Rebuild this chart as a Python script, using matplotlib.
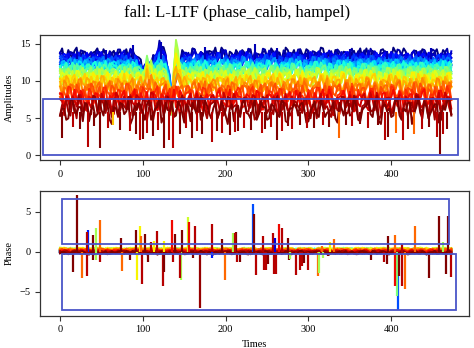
import numpy as np
import matplotlib
matplotlib.use("Agg")
import matplotlib.pyplot as plt
from matplotlib.patches import Rectangle

plt.rcParams["font.family"] = ["Liberation Serif", "DejaVu Serif"]

title = "fall: L-LTF (phase_calib, hampel)"

# sample times (every 2.5 packets)
times = np.arange(190) * 2.5

# jitter patterns, one value per 5 packets
tex_a = [0.2, -0.5, 0.6, -0.3, 0.9, -0.2, 0.4, -0.7, 0.3, 0.8, -0.4, 0.1, -0.9, 0.5, 0.2, -0.3, 0.7, -0.6, 0.0,
         0.6, -0.2, 0.9, -0.5, 0.3, -0.1, 0.5, -0.8, 0.4, 0.7, -0.3, 0.2, -0.6, 0.8, -0.1, 0.3, -0.7, 0.5, 0.1,
         -0.4, 0.9, -0.3, 0.4, -0.9, 0.2, 0.6, -0.2, 0.7, -0.5, 0.1, 0.4, -0.6, 0.8, -0.2, 0.3, -0.8, 0.6, 0.0,
         -0.4, 0.7, -0.1, 0.5, -0.7, 0.2, 0.9, -0.3, 0.4, -0.5, 0.6, -0.1, 0.3, -0.9, 0.5, 0.2, -0.4, 0.8, -0.2,
         0.1, -0.6, 0.7, 0.3, -0.5, 0.4, -0.2, 0.8, -0.7, 0.2, 0.5, -0.3, 0.6, -0.8, 0.1, 0.7, -0.4, 0.3, -0.1]
tex_b = [-0.3, 0.4, -0.1, 0.7, -0.6, 0.2, -0.8, 0.5, 0.0, -0.4, 0.6, -0.2, 0.8, -0.5, 0.3, 0.9, -0.7, 0.1, 0.5,
         -0.2, 0.3, -0.9, 0.6, 0.1, -0.5, 0.7, -0.3, 0.2, -0.6, 0.4, 0.9, -0.1, 0.5, -0.8, 0.2, 0.6, -0.4, 0.3,
         0.7, -0.6, 0.1, -0.3, 0.5, -0.8, 0.4, 0.2, -0.5, 0.9, -0.2, 0.6, -0.4, 0.1, 0.7, -0.7, 0.3, -0.1, 0.8,
         -0.5, 0.2, 0.6, -0.9, 0.4, -0.1, 0.3, -0.6, 0.8, 0.0, -0.3, 0.5, -0.7, 0.6, 0.2, -0.4, 0.9, -0.2, 0.1,
         0.4, -0.8, 0.5, -0.2, 0.7, 0.1, -0.5, 0.3, -0.3, 0.6, -0.9, 0.2, 0.8, -0.4, 0.0, 0.5, -0.6, 0.4, -0.2]
tex_c = [0.5, 0.1, -0.7, 0.3, -0.2, 0.8, -0.4, 0.0, 0.6, -0.8, 0.2, 0.5, -0.3, 0.9, -0.6, 0.1, 0.4, -0.2, 0.7,
         -0.7, 0.4, 0.0, -0.4, 0.8, -0.3, 0.2, 0.6, -0.9, 0.3, -0.1, 0.7, -0.5, 0.2, 0.5, -0.6, 0.1, 0.9, -0.3,
         0.2, -0.5, 0.8, -0.1, 0.3, 0.6, -0.7, 0.4, -0.2, 0.1, 0.8, -0.6, 0.3, -0.3, 0.5, 0.0, -0.9, 0.4, 0.6,
         -0.1, 0.5, -0.6, 0.2, 0.9, -0.4, 0.1, 0.7, -0.3, 0.4, -0.8, 0.3, 0.6, -0.2, -0.6, 0.8, -0.1, 0.2, -0.5,
         0.7, -0.3, 0.2, -0.7, 0.4, 0.6, -0.1, -0.5, 0.9, -0.2, 0.3, -0.6, 0.5, 0.1, -0.4, 0.6, -0.8, 0.2, 0.4]

# mean amplitude of each subcarrier trace, blue (top) to dark red (bottom), and its jitter
amp_levels = [13.5, 13.35, 13.2, 13.0, 12.85, 12.7, 12.5, 12.35, 12.2, 12.0, 11.85, 11.7, 11.5, 11.3, 11.1,
              10.9, 10.7, 10.5, 10.3, 10.0, 9.8, 9.5, 9.1, 8.7, 8.3, 7.9, 7.4, 6.9, 6.4, 5.9]
amp_spread = [1.1, 1.1, 1.0, 1.0, 1.0, 1.0, 1.0, 1.0, 1.0, 1.0, 1.0, 1.1, 1.1, 1.1, 1.1,
              1.1, 1.2, 1.2, 1.2, 1.3, 1.3, 1.3, 1.4, 1.4, 1.5, 1.5, 1.6, 1.7, 1.8, 1.9]

# disturbance around t=100..145 (upper and middle subcarriers)
up_event_t = [95, 97.5, 100, 102.5, 105, 107.5, 110, 112.5, 115, 117.5, 120,
              122.5, 125, 127.5, 130, 132.5, 135, 137.5, 140, 142.5, 145]
up_event_v = [-1.0, -1.5, -2.5, -2.0, -2.0, -1.5, -1.5, -1.0, -0.5, 0.5, 1.5,
              1.0, 0.5, -0.5, -2.0, -4.0, -7.5, -5.0, -3.0, -2.0, -1.0]
mid_event_t = [105, 107.5, 110, 130, 132.5, 135, 137.5, 140, 142.5, 145]
mid_event_v = [2.5, 1.0, 1.5, -1.0, -3.0, -4.5, 1.0, 4.5, 2.5, 1.0]

# single-sample drops of the low (red) traces: time, value, colour position
dip_t = [2, 16, 24, 34, 41, 48, 58, 64, 72, 85, 92, 96, 100, 105, 112, 118, 126, 132, 136, 145,
         152, 159, 165, 172, 183, 189, 195, 205, 211, 215, 222, 231, 244, 248, 255, 262, 268, 275,
         280, 290, 298, 307, 318, 325, 337, 345, 352, 362, 372, 384, 392, 396, 406, 414, 420, 427,
         437, 446, 455, 459, 463, 467]
dip_v = [2.3, 3.8, 3.5, 1.1, 3.9, 1.0, 3.6, 4.0, 3.4, 3.3, 2.8, 2.0, 2.2, 3.0, 2.6, 3.4, 1.0, 2.0, 1.0, 2.9,
         3.6, 2.3, 3.2, 2.8, 1.8, 3.3, 3.0, 2.7, 3.1, 3.2, 3.6, 3.4, 3.0, 3.5, 3.8, 2.0, 3.2, 3.9,
         3.5, 4.0, 3.7, 3.7, 4.1, 3.8, 2.3, 4.0, 3.9, 4.2, 3.6, 4.0, 2.0, 2.5, 3.0, 2.0, 3.5, 2.8,
         3.5, 3.8, 2.5, 0.1, 2.8, 3.5]
dip_c = [1.0, 0.95, 1.0, 0.95, 1.0, 1.0, 0.95, 0.7, 1.0, 0.95, 1.0, 0.95, 1.0, 0.95, 1.0, 0.95, 1.0, 0.95, 0.95, 1.0,
         0.95, 1.0, 0.95, 1.0, 0.95, 1.0, 0.95, 1.0, 0.95, 1.0, 0.95, 1.0, 0.95, 1.0, 0.95, 1.0, 0.95, 1.0,
         0.95, 1.0, 0.95, 1.0, 0.95, 1.0, 0.8, 1.0, 0.95, 1.0, 0.95, 1.0, 0.95, 1.0, 0.8, 0.95, 1.0, 0.8,
         0.95, 1.0, 0.95, 1.0, 0.95, 1.0]

# peaks of the top (blue) trace
peak_t = [20, 55, 88, 122, 175, 196, 235, 262, 300, 350, 395, 448]
peak_v = [14.0, 14.2, 14.9, 15.3, 14.6, 14.3, 15.0, 14.5, 14.2, 14.3, 14.1, 14.4]

# phase: resting level of each trace, then the spikes (time, value, colour position)
phase_levels = [0.0, 0.0, 0.0, 0.05, 0.05, 0.1, 0.1, 0.1, 0.15, 0.15, 0.2, 0.2, 0.2, 0.25, 0.25,
                0.3, 0.3, 0.3, 0.3, 0.3, 0.25, 0.25, 0.2, 0.2, 0.15, 0.1, 0.05, 0.0, -0.05, -0.1]
spike_t = [16, 20, 26, 34, 33, 33, 40, 40, 44, 44, 48, 48, 74, 75, 85, 92, 93, 96, 98, 99,
           103, 106, 110, 113, 117, 124, 125, 126, 135, 136, 139, 145, 146, 147, 155, 156, 163, 161, 169, 183,
           184, 195, 199, 209, 211, 213, 214, 217, 233, 234, 237, 245, 246, 249, 251, 257, 258, 259, 261, 264,
           268, 275, 276, 278, 285, 290, 292, 294, 300, 312, 313, 316, 318, 326, 331, 324, 375, 391, 396, 395,
           404, 405, 407, 408, 409, 413, 413, 416, 429, 446, 458, 462, 466, 469, 472]
spike_v = [-2.5, 7.1, -3.2, 2.8, 2.5, -3.0, 2.1, -1.0, 3.0, -1.0, 4.0, -1.2, 1.8, -2.4, -1.0, 2.8, -3.5, 3.2, 2.0, -4.0,
           2.2, -1.2, 1.3, 1.4, 2.6, -4.2, -2.5, 1.4, 4.0, -1.2, 2.2, -3.2, -3.5, 2.8, 4.4, 3.7, 3.2, -0.8, -7.0, -0.8,
           3.5, 1.6, -3.5, 2.4, 2.4, 2.5, -1.2, -1.3, 6.0, 4.8, -2.9, 2.0, -2.3, -2.2, -1.5, 2.4, -2.8, 1.8, -2.8, 3.5,
           3.0, 1.7, -1.0, -0.9, -2.9, -2.2, -1.7, -1.4, -2.2, -3.0, -2.6, 0.8, -0.8, 1.3, 1.6, -0.5, -1.0, -1.2, 2.0, -1.5,
           -4.2, 2.1, -5.5, -7.2, -3.0, 1.0, -4.3, -4.6, 3.3, -3.2, 4.5, 1.2, -2.7, 4.5, -3.1]
spike_c = [1.0, 1.0, 0.8, 0.15, 0.95, 0.95, 1.0, 1.0, 0.55, 0.55, 0.8, 0.95, 1.0, 0.8, 1.0, 1.0, 0.65, 0.65, 0.8, 0.95,
           1.0, 1.0, 0.95, 0.65, 0.95, 0.95, 1.0, 0.65, 0.9, 0.95, 1.0, 0.95, 0.55, 1.0, 0.6, 0.9, 0.95, 1.0, 0.98, 0.15,
           0.95, 1.0, 0.8, 0.55, 0.95, 1.0, 0.95, 1.0, 0.2, 1.0, 0.95, 0.95, 0.95, 0.95, 1.0, 0.95, 0.95, 0.08, 0.95, 0.9,
           0.95, 1.0, 1.0, 0.55, 0.95, 0.95, 0.95, 1.0, 0.95, 0.8, 0.55, 0.8, 0.55, 0.65, 0.8, 1.0, 1.0, 0.95, 1.0, 1.0,
           0.9, 0.8, 0.5, 0.2, 1.0, 0.95, 0.95, 0.8, 0.8, 1.0, 1.0, 0.55, 1.0, 1.0, 0.95]

# marked regions (x0, y0, x1, y1)
amp_boxes = [(-20, 0.0, 480, 7.5)]
phase_boxes = [(2.5, 1.0, 470, 6.6), (2.5, -7.25, 478, -0.25)]


cmap = plt.get_cmap("jet")
box_color = "#4a55c8"
textures = [np.array(tex_a), np.array(tex_b), np.array(tex_c)]


def jitter(k, shift):
    # interleave two of the read patterns to get one value per 2.5 packets
    out = np.empty(len(times))
    out[0::2] = np.roll(textures[k % 3], shift * k)
    out[1::2] = np.roll(textures[(k + 1) % 3], shift * k + 7)
    return out


up_event = np.zeros(len(times))
up_event[np.searchsorted(times, up_event_t)] = up_event_v
mid_event = np.zeros(len(times))
mid_event[np.searchsorted(times, mid_event_t)] = mid_event_v

fig = plt.figure(figsize=(4.74, 3.48), dpi=100)
ax1 = fig.add_axes([0.0844, 0.540, 0.9046, 0.359])
ax2 = fig.add_axes([0.0844, 0.093, 0.9046, 0.359])

n = len(amp_levels)
for k in range(n):
    f = k / (n - 1)
    w_up = max(0.0, 1 - f / 0.6)
    w_mid = max(0.0, 1 - abs(f - 0.55) / 0.3)
    y = amp_levels[k] + amp_spread[k] * jitter(k, 2) + w_up * up_event + w_mid * mid_event
    ax1.plot(times, y, color=cmap(f), lw=1.4)
ax1.vlines(peak_t, 13.0, peak_v, colors=[cmap(0.05)], lw=1.5)
ax1.vlines(dip_t, dip_v, 5.8, colors=[cmap(c) for c in dip_c], lw=1.5)

for k in range(n):
    f = k / (n - 1)
    y = phase_levels[k] + 0.25 * jitter(k + 1, 3)
    ax2.plot(times, y, color=cmap(f), lw=1.5)
order = np.argsort(-np.abs(spike_v), kind="stable")
ax2.vlines(np.array(spike_t)[order], 0, np.array(spike_v)[order],
           colors=[cmap(spike_c[i]) for i in order], lw=1.6)

for ax, boxes in ((ax1, amp_boxes), (ax2, phase_boxes)):
    for x0, y0, x1, y1 in boxes:
        ax.add_patch(Rectangle((x0, y0), x1 - x0, y1 - y0, fill=False,
                               ec=box_color, lw=1.3, zorder=5))

ax1.set_xlim(-24.2, 493.6)
ax2.set_xlim(-24.2, 493.6)
ax1.set_ylim(-0.67, 16.17)
ax2.set_ylim(-7.96, 7.66)
ax1.set_yticks([0, 5, 10, 15])
ax2.set_yticks([-5, 0, 5])
for ax in (ax1, ax2):
    ax.set_xticks([0, 100, 200, 300, 400])
    ax.tick_params(labelsize=7.5, length=3.5, width=0.8, colors="#333333", labelcolor="black")
    for s in ax.spines.values():
        s.set_color("#333333")
        s.set_linewidth(0.9)

ax1.set_ylabel("Amplitudes", fontsize=7.5)
ax2.set_ylabel("Phase", fontsize=7.5)
ax2.set_xlabel("Times", fontsize=7.5)
fig.suptitle(title, fontsize=12, y=0.985)

fig.savefig("out.png", dpi=100)
